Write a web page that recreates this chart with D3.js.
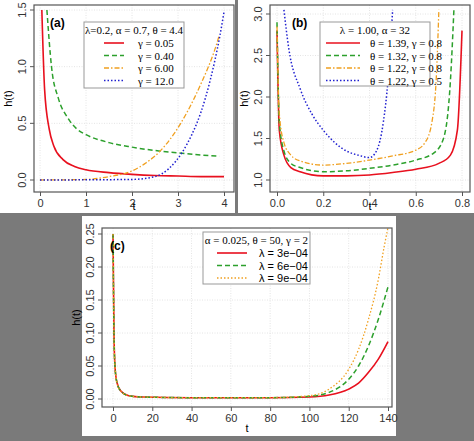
<!DOCTYPE html><html><head><script src="https://cdn.jsdelivr.net/npm/d3@7"></script>
<style>body{margin:0;background:#7a7a7a}svg{display:block}</style></head><body><svg width="474" height="441"></svg>
<script>
// Panel (a) data
const aRed=[[0.04,1.5],[0.1,0.8],[0.2,0.45],[0.3,0.3],[0.5,0.18],[0.75,0.12],[1,0.09],[1.5,0.065],[2,0.05],[2.5,0.04],[3,0.035],[3.5,0.03],[4,0.03]];
const aGreen=[[0.15,1.5],[0.25,1.0],[0.4,0.72],[0.6,0.55],[0.8,0.45],[1,0.4],[1.5,0.33],[2,0.29],[2.5,0.26],[3,0.24],[3.5,0.22],[3.9,0.21]];
const aOrange=[[0,0],[1,0.005],[1.5,0.03],[2,0.08],[2.3,0.15],[2.6,0.25],[2.9,0.4],[3.2,0.6],[3.5,0.85],[3.8,1.15],[3.9,1.28]];
const aBlue=[[0,0],[2,0.005],[2.5,0.03],[2.8,0.1],[3.1,0.25],[3.3,0.4],[3.5,0.6],[3.7,0.88],[3.9,1.25],[4,1.48]];
const aLegend=["γ = 0.05","γ = 0.40","γ = 6.00","γ = 12.0"];
const aXTicks=[0,1,2,3,4], aYTicks=[0,0.5,1,1.5];
// Panel (b) data
const bRed=[[0,2.8],[0.01,1.6],[0.03,1.3],[0.06,1.15],[0.1,1.1],[0.2,1.05],[0.3,1.05],[0.4,1.06],[0.5,1.09],[0.6,1.13],[0.7,1.2],[0.75,1.3],[0.78,1.6],[0.8,2.8]];
const bGreen=[[0,2.9],[0.01,1.7],[0.03,1.35],[0.06,1.2],[0.1,1.15],[0.2,1.1],[0.3,1.11],[0.4,1.14],[0.5,1.18],[0.6,1.24],[0.68,1.33],[0.72,1.5],[0.75,2.2],[0.765,3.05]];
const bOrange=[[0,2.85],[0.01,1.8],[0.03,1.45],[0.06,1.3],[0.1,1.23],[0.2,1.18],[0.3,1.2],[0.4,1.24],[0.5,1.29],[0.6,1.36],[0.64,1.45],[0.67,1.7],[0.69,2.3],[0.7,3.05]];
const bBlue=[[0.03,3.05],[0.05,2.6],[0.1,2.1],[0.15,1.8],[0.2,1.6],[0.25,1.45],[0.3,1.35],[0.35,1.3],[0.4,1.27],[0.43,1.35],[0.46,1.7],[0.48,2.2],[0.5,3.05]];
const bLegend=["θ = 1.39, γ = 0.8","θ = 1.32, γ = 0.8","θ = 1.22, γ = 0.8","θ = 1.22, γ = 0.5"];
const bXTicks=[0,0.2,0.4,0.6,0.8], bYTicks=[1,1.5,2,2.5,3];
// Panel (c) data
const cHead=[[0,0.25],[0.5,0.1],[1,0.05],[2,0.025],[4,0.012],[8,0.005],[15,0.003],[40,0.002],[80,0.002]];
const cRedTail=[[100,0.003],[110,0.006],[120,0.015],[125,0.024],[130,0.04],[135,0.06],[140,0.087]];
const cGreenTail=[[100,0.004],[110,0.01],[120,0.03],[125,0.05],[130,0.08],[135,0.12],[140,0.17]];
const cOrangeTail=[[100,0.005],[110,0.015],[120,0.045],[125,0.075],[130,0.12],[135,0.18],[138,0.23],[140,0.26]];
const cLegend=["λ = 3e−04","λ = 6e−04","λ = 9e−04"];
const cXTicks=[0,20,40,60,80,100,120,140], cYTicks=[0,0.05,0.1,0.15,0.2,0.25];

const SANS="'Liberation Sans', Arial, sans-serif", SERIF="'Liberation Serif', 'Times New Roman', serif";
const styles=[{c:"#e8101e",d:null,w:1.6},{c:"#2ca02c",d:"5,3",w:1.5},{c:"#f0a020",d:"5,2,1.5,2",w:1.3},{c:"#2020d0",d:"1.5,2",w:1.5}];
const stylesC=[styles[0],styles[1],{c:"#f0a020",d:"1.5,2",w:1.3}];
const svg=d3.select("svg");
svg.append("rect").attr("x",0).attr("y",0).attr("width",235).attr("height",213).attr("fill","#fff");
svg.append("rect").attr("x",238).attr("y",0).attr("width",236).attr("height",213).attr("fill","#fff");
svg.append("rect").attr("x",82).attr("y",216).attr("width",314).attr("height",220).attr("fill","#fff");

function panel(o){
 const g=svg.append("g");
 const x=d3.scaleLinear().domain(o.xd).range(o.xr), y=d3.scaleLinear().domain(o.yd).range(o.yr);
 const [L,R,T,B]=o.box;
 g.append("defs").append("clipPath").attr("id",o.id).append("rect").attr("x",L).attr("y",T).attr("width",R-L).attr("height",B-T);
 o.xt.forEach(v=>g.append("line").attr("x1",x(v)).attr("x2",x(v)).attr("y1",T).attr("y2",B).attr("stroke","#e4e4e4").attr("stroke-dasharray","1,1.5"));
 o.yt.forEach(v=>g.append("line").attr("y1",y(v)).attr("y2",y(v)).attr("x1",L).attr("x2",R).attr("stroke","#e4e4e4").attr("stroke-dasharray","1,1.5"));
 const line=d3.line().x(d=>x(d[0])).y(d=>y(d[1])).curve(d3.curveMonotoneX);
 o.series.forEach((s,i)=>g.append("path").attr("d",line(s)).attr("fill","none").attr("stroke",o.st[i].c).attr("stroke-width",o.st[i].w).attr("stroke-dasharray",o.st[i].d).attr("clip-path",`url(#${o.id})`));
 g.append("rect").attr("x",L).attr("y",T).attr("width",R-L).attr("height",B-T).attr("fill","none").attr("stroke","#555").attr("stroke-width",1.2);
 const xa=g.append("g").attr("transform",`translate(0,${B})`).call(d3.axisBottom(x).tickValues(o.xt).tickSize(4).tickSizeOuter(0).tickFormat(o.xf));
 const ya=g.append("g").attr("transform",`translate(${L},0)`).call(d3.axisLeft(y).tickValues(o.yt).tickSize(4).tickSizeOuter(0).tickFormat(o.yf));
 [xa,ya].forEach(a=>{a.select(".domain").remove();a.selectAll("line").attr("stroke","#555");a.selectAll("text").attr("font-family",SANS).attr("font-size",11).attr("fill","#333");});
 ya.selectAll(".tick").attr("transform",null);
 ya.selectAll(".tick text").each(function(d){d3.select(this).attr("x",null).attr("dy",null).attr("text-anchor","middle").attr("transform",`translate(-8,${y(d)}) rotate(-90)`).attr("y",0);});
 ya.selectAll(".tick line").each(function(d){d3.select(this).attr("y1",y(d)).attr("y2",y(d));});
 g.append("text").attr("x",(L+R)/2).attr("y",B+o.tl).attr("text-anchor","middle").attr("font-family",SANS).attr("font-size",11).text("t");
 g.append("text").attr("transform",`translate(${L-22},${(T+B)/2}) rotate(-90)`).attr("text-anchor","middle").attr("font-family",SANS).attr("font-size",11).text("h(t)");
 g.append("text").attr("x",L+o.lab[0]).attr("y",T+o.lab[1]).attr("font-family",SANS).attr("font-weight","bold").attr("font-size",12).text(o.label);
 const [lx,ly,lw,lh]=o.leg;
 g.append("rect").attr("x",lx).attr("y",ly).attr("width",lw).attr("height",lh).attr("fill","#fff").attr("stroke","#999");
 g.append("text").attr("x",lx+lw/2).attr("y",ly+12).attr("text-anchor","middle").attr("font-family",SERIF).attr("font-size",11).text(o.title);
 o.names.forEach((n,i)=>{const yy=ly+25+i*12.5;
  g.append("line").attr("x1",lx+o.ll[0]).attr("x2",lx+o.ll[1]).attr("y1",yy-4).attr("y2",yy-4).attr("stroke",o.st[i].c).attr("stroke-width",o.st[i].w).attr("stroke-dasharray",o.st[i].d);
  g.append("text").attr("x",lx+o.ll[2]).attr("y",yy).attr("font-family",o.lf).attr("font-size",11).text(n);});
}
panel({id:"ca",xd:[0,4],xr:[40,224],yd:[0,1.5],yr:[180,10],box:[34,234,5,192],xt:aXTicks,yt:aYTicks,xf:d3.format("d"),yf:d3.format(".1f"),tl:18,
 series:[aRed,aGreen,aOrange,aBlue],st:styles,label:"(a)",lab:[16,22],leg:[84,22,100,66],title:"λ=0.2, α = 0.7, θ  = 4.4",names:aLegend,ll:[20,40,54],lf:SERIF});
panel({id:"cb",xd:[0,0.8],xr:[277,462],yd:[1,3],yr:[180,14],box:[270,470,5,192],xt:bXTicks,yt:bYTicks,xf:d3.format(".1f"),yf:d3.format(".1f"),tl:18,
 series:[bRed,bGreen,bOrange,bBlue],st:styles,label:"(b)",lab:[22,22],leg:[320,22,110,64],title:"λ = 1.00, α = 32",names:bLegend,ll:[6,40,50],lf:SERIF});
panel({id:"cc",xd:[0,140],xr:[113,388],yd:[0,0.25],yr:[399,234],box:[102,392,228,407],xt:cXTicks,yt:cYTicks,xf:d3.format("d"),yf:d3.format(".2f"),tl:25,
 series:[cHead.concat(cRedTail),cHead.concat(cGreenTail),cHead.concat(cOrangeTail)],st:stylesC,label:"(c)",lab:[8,22],leg:[203,232,107,52],title:"α = 0.025, θ = 50, γ = 2",names:cLegend,ll:[14,44,56],lf:SANS});
</script></body></html>
